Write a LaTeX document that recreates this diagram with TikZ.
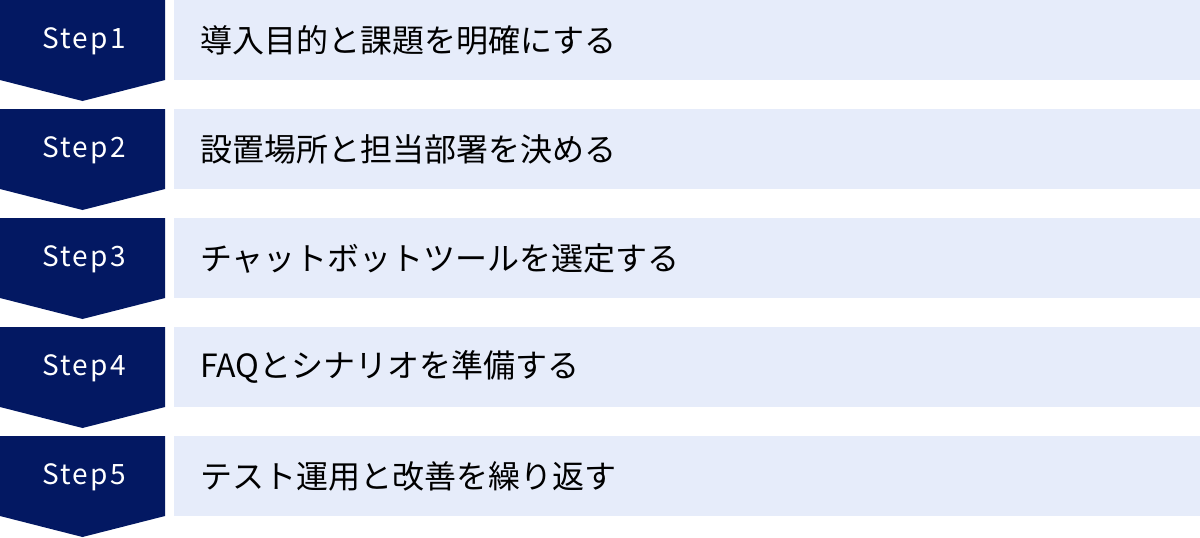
\documentclass[tikz,border=0pt]{standalone}
\usepackage{fontspec}
\setmainfont{Noto Sans CJK JP}
\newfontfamily\stepfont[LetterSpace=8]{Noto Sans CJK JP}
\usetikzlibrary{positioning}
\definecolor{navy}{RGB}{3,24,98}
\definecolor{paleblue}{RGB}{230,236,250}
\tikzset{
  taskbox/.style={rectangle, fill=paleblue, anchor=north west, minimum height=80pt, text width=974pt, inner xsep=26pt, inner ysep=0pt, align=left, font=\fontsize{32}{36}\selectfont},
  steplabel/.style={text=white, inner sep=0pt, font=\stepfont\fontsize{28}{32}\selectfont}
}

\begin{document}
\begin{tikzpicture}[x=1pt,y=-1pt]
  \useasboundingbox (0,0) rectangle (1200,538);
  \pgfmathsetmacro{\rowdist}{109};
  \foreach \i/\task in {1/導入目的と課題を明確にする, 2/設置場所と担当部署を決める, 3/チャットボットツールを選定する, 4/FAQとシナリオを準備する, 5/テスト運用と改善を繰り返す}{
    \pgfmathsetmacro{\rowtop}{(\i-1)*\rowdist};
    % chevron with step number
    \fill[navy] (0,\rowtop) -- (165,\rowtop) -- (165,\rowtop+80) -- (82.5,\rowtop+101) -- (0,\rowtop+80) -- cycle;
    \node[steplabel] (step\i) at (84,\rowtop+41) {Step\i};
    % task text
    \node[taskbox] (task\i) at (174,\rowtop) {\task};
  }
\end{tikzpicture}
\end{document}
